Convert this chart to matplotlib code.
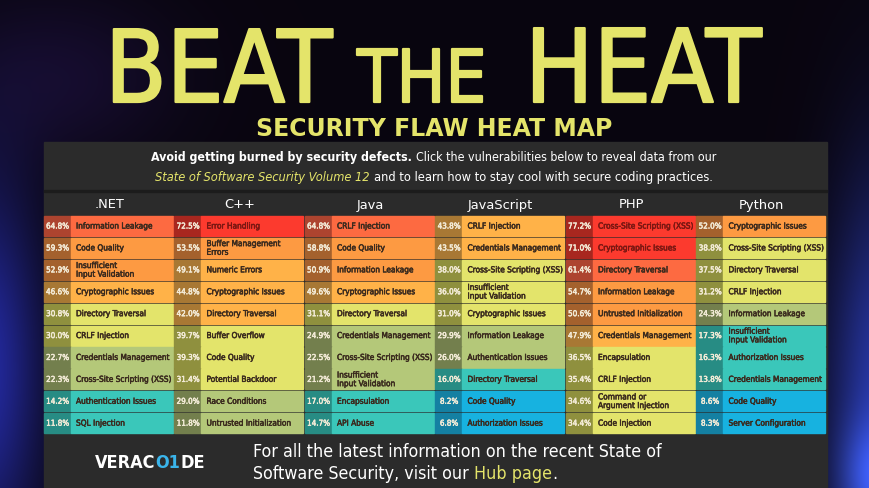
"""
Beat the Heat - security flaw heat map by language.
Saves out.png
"""
import numpy as np
import matplotlib
matplotlib.use("Agg")
import matplotlib.pyplot as plt
import matplotlib.patheffects as pe
from matplotlib.patches import Rectangle

W, H = 870, 489

languages = [".NET", "C++", "Java", "JavaScript", "PHP", "Python"]

net_flaws = ["Information Leakage", "Code Quality", "Insufficient\nInput Validation",
             "Cryptographic Issues", "Directory Traversal", "CRLF Injection",
             "Credentials Management", "Cross-Site Scripting (XSS)",
             "Authentication Issues", "SQL Injection"]
net_pct = [64.8, 59.3, 52.9, 46.6, 30.8, 30.0, 22.7, 22.3, 14.2, 11.8]
net_heat = [1, 2, 2, 3, 4, 4, 5, 5, 6, 6]

cpp_flaws = ["Error Handling", "Buffer Management\nErrors", "Numeric Errors",
             "Cryptographic Issues", "Directory Traversal", "Buffer Overflow",
             "Code Quality", "Potential Backdoor", "Race Conditions",
             "Untrusted Initialization"]
cpp_pct = [72.5, 53.5, 49.1, 44.8, 42.0, 39.7, 39.3, 31.4, 29.0, 11.8]
cpp_heat = [0, 2, 3, 3, 3, 4, 4, 4, 5, 5]

java_flaws = ["CRLF Injection", "Code Quality", "Information Leakage",
              "Cryptographic Issues", "Directory Traversal", "Credentials Management",
              "Cross-Site Scripting (XSS)", "Insufficient\nInput Validation",
              "Encapsulation", "API Abuse"]
java_pct = [64.8, 58.8, 50.9, 49.6, 31.1, 24.9, 22.5, 21.2, 17.0, 14.7]
java_heat = [1, 2, 2, 3, 4, 5, 5, 5, 6, 6]

js_flaws = ["CRLF Injection", "Credentials Management", "Cross-Site Scripting (XSS)",
            "Insufficient\nInput Validation", "Cryptographic Issues",
            "Information Leakage", "Authentication Issues", "Directory Traversal",
            "Code Quality", "Authorization Issues"]
js_pct = [43.8, 43.5, 38.0, 36.0, 31.0, 29.9, 26.0, 16.0, 8.2, 6.8]
js_heat = [3, 3, 4, 4, 4, 5, 5, 6, 7, 7]

php_flaws = ["Cross-Site Scripting (XSS)", "Cryptographic Issues", "Directory Traversal",
             "Information Leakage", "Untrusted Initialization", "Credentials Management",
             "Encapsulation", "CRLF Injection", "Command or\nArgument Injection",
             "Code Injection"]
php_pct = [77.2, 71.0, 61.4, 54.7, 50.6, 47.9, 36.5, 35.4, 34.6, 34.4]
php_heat = [0, 0, 1, 2, 2, 3, 4, 4, 4, 4]

py_flaws = ["Cryptographic Issues", "Cross-Site Scripting (XSS)", "Directory Traversal",
            "CRLF Injection", "Information Leakage", "Insufficient\nInput Validation",
            "Authorization Issues", "Credentials Management", "Code Quality",
            "Server Configuration"]
py_pct = [52.0, 38.8, 37.5, 31.2, 24.3, 17.3, 16.3, 13.8, 8.6, 8.3]
py_heat = [2, 4, 4, 4, 5, 6, 6, 6, 7, 7]

columns = [
    (net_flaws, net_pct, net_heat),
    (cpp_flaws, cpp_pct, cpp_heat),
    (java_flaws, java_pct, java_heat),
    (js_flaws, js_pct, js_heat),
    (php_flaws, php_pct, php_heat),
    (py_flaws, py_pct, py_heat),
]

# heat palette: name cell, percent cell
HEAT_LIGHT = ["#fc3a2e", "#fd6a41", "#fd9a42", "#ffb248", "#e3e46b", "#b4c879", "#3ac7ba", "#17b2e0"]
HEAT_DARK = ["#a8271f", "#ad442f", "#a4612d", "#a87834", "#8f903e", "#737f4d", "#278c84", "#1480a2"]
YELLOW = "#e4e46a"
FONT = ["DejaVu Sans"]

fig = plt.figure(figsize=(W / 100, H / 100), dpi=100)
ax = fig.add_axes([0, 0, 1, 1])
ax.set_xlim(0, W)
ax.set_ylim(H, 0)
ax.axis("off")

# dark backdrop with blue glow at the sides
yy, xx = np.mgrid[0:H, 0:W]
bg = np.zeros((H, W, 3))
bg[:] = (0.035, 0.02, 0.06)
for cx, cy, sx, sy, col in [(-15, 370, 40, 130, (0.10, 0.14, 0.55)),
                            (885, 400, 40, 150, (0.12, 0.20, 0.60)),
                            (875, 480, 25, 40, (0.12, 0.20, 0.45)),
                            (60, 80, 80, 60, (0.05, 0.03, 0.12))]:
    g = np.exp(-((xx - cx) ** 2 / (2 * sx ** 2) + (yy - cy) ** 2 / (2 * sy ** 2)))
    bg += g[..., None] * np.array(col)
ax.imshow(np.clip(bg, 0, 1), extent=(0, W, H, 0), zorder=0, aspect="auto")

# grey panel
PX0, PX1, PY0 = 44, 827, 143
ax.add_patch(Rectangle((PX0, PY0), PX1 - PX0, H - PY0, color="#2b2b2b", zorder=1))
ax.add_patch(Rectangle((PX0, 191), PX1 - PX0, 2, color="#1c1c1c", zorder=2))

# title
thick = [pe.withStroke(linewidth=1.6, foreground=YELLOW)]
tkw = dict(color=YELLOW, family=FONT, fontstretch="condensed", va="baseline", ha="left",
           path_effects=thick)
ax.text(105, 103, "BEAT", fontsize=72, **tkw)
ax.text(357, 103, "THE", fontsize=52, **tkw)
ax.text(525, 103, "HEAT", fontsize=73, **tkw)
ax.text(434, 136, "SECURITY FLAW HEAT MAP", fontsize=17, color=YELLOW, family=FONT,
        weight="bold", ha="center", va="baseline")

renderer = fig.canvas.get_renderer()


def rich_line(parts, xc, y, size):
    # parts: (text, color, weight, style); laid out left to right, centred on xc
    gap = size * 100 / 72 * 0.32
    objs = []
    for s, c, wgt, sty in parts:
        objs.append(ax.text(0, y, s, fontsize=size, color=c, weight=wgt, style=sty,
                            family=FONT, fontstretch="condensed", ha="left",
                            va="baseline", zorder=5))
    widths = [t.get_window_extent(renderer).width for t in objs]
    total = sum(widths) + gap * (len(objs) - 1)
    x = xc - total / 2
    for t, w in zip(objs, widths):
        t.set_x(x)
        x += w + gap


rich_line([("Avoid getting burned by security defects.", "white", "bold", "normal"),
           ("Click the vulnerabilities below to reveal data from our", "white", "normal", "normal")],
          434, 161, 8.9)
rich_line([("State of Software Security Volume 12", YELLOW, "normal", "italic"),
           ("and to learn how to stay cool with secure coding practices.", "white", "normal", "normal")],
          434, 181, 9.2)

# heat map table
TX0, TY0, TY1 = 44, 217, 436
col_w = (PX1 - TX0) / len(languages)
row_h = (TY1 - TY0) / 10
pct_w = 27

for ci, (lang, (flaws, pcts, heats)) in enumerate(zip(languages, columns)):
    x0 = TX0 + ci * col_w
    ax.text(x0 + col_w / 2, 205, lang, fontsize=9.4, color="white", family=FONT,
            ha="center", va="center", zorder=5)
    for ri, (name, p, h) in enumerate(zip(flaws, pcts, heats)):
        y0 = TY0 + ri * row_h
        ax.add_patch(Rectangle((x0, y0), pct_w, row_h - 1.8, color=HEAT_DARK[h], zorder=3))
        ax.add_patch(Rectangle((x0 + pct_w, y0), col_w - pct_w - 1.8, row_h - 1.8,
                               color=HEAT_LIGHT[h], zorder=3))
        ax.text(x0 + pct_w / 2, y0 + row_h / 2 - 0.9, f"{p:.1f}%", fontsize=5.8,
                color="#f4ecd8", family=FONT, fontstretch="condensed",
                ha="center", va="center", zorder=5,
                path_effects=[pe.withStroke(linewidth=0.35, foreground="#f4ecd8")])
        tc = "#7a1712" if h == 0 else "#3a2a1e"
        ax.text(x0 + pct_w + 5, y0 + row_h / 2 - 0.9, name, fontsize=5.95,
                color=tc, family=FONT, fontstretch="condensed", ha="left",
                va="center", linespacing=0.95, zorder=5,
                path_effects=[pe.withStroke(linewidth=0.35, foreground=tc)])

# footer
lx = 95
for s, c in [("VERAC", "white"), ("O1", "#3ab4ea"), ("DE", "white")]:
    t = ax.text(lx, 468, s, fontsize=13, color=c, weight="bold", family=FONT,
                fontstretch="condensed", ha="left", va="baseline", zorder=5)
    lx += t.get_window_extent(renderer).width

FS = 12.8
ax.text(253, 457, "For all the latest information on the recent State of", fontsize=FS,
        color="white", family=FONT, fontstretch="condensed", ha="left", va="baseline", zorder=5)
t1 = ax.text(253, 479, "Software Security, visit our", fontsize=FS, color="white",
             family=FONT, fontstretch="condensed", ha="left", va="baseline", zorder=5)
x = 253 + t1.get_window_extent(renderer).width + FS * 100 / 72 * 0.3
t2 = ax.text(x, 479, "Hub page", fontsize=FS, color=YELLOW, family=FONT,
             fontstretch="condensed", ha="left", va="baseline", zorder=5)
x += t2.get_window_extent(renderer).width
ax.text(x, 479, ".", fontsize=FS, color="white", family=FONT, fontstretch="condensed",
        ha="left", va="baseline", zorder=5)

fig.savefig("out.png", dpi=100)
